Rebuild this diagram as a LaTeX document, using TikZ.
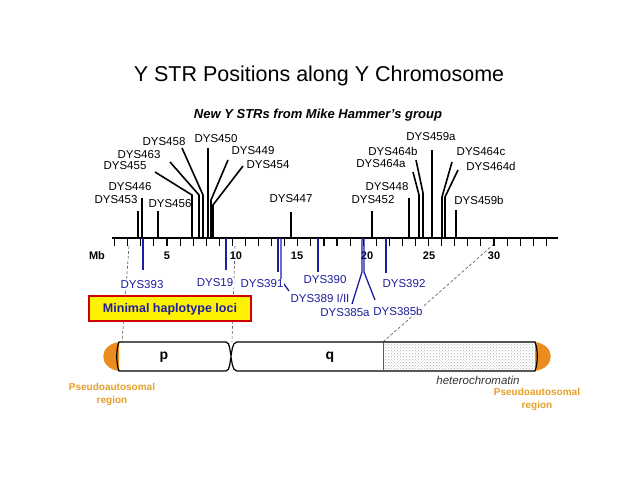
\documentclass[tikz,border=0pt]{standalone}
\usepackage{fontspec}
\setmainfont{Liberation Sans}
\usetikzlibrary{patterns}
\definecolor{blu}{RGB}{30,30,160}
\definecolor{orng}{RGB}{235,140,30}
\definecolor{lbl}{RGB}{230,160,40}
\begin{document}
\begin{tikzpicture}[x=1pt,y=-1pt,
 lab/.style={font=\fontsize{11.5}{13}\selectfont, inner sep=0.5pt},
 blab/.style={lab, text=blu, fill=white},
 mk/.style={line width=1.6pt},
 bmk/.style={line width=1.3pt, draw=blu},
 dsh/.style={densely dashed, gray!70!black, line width=0.6pt}]
\fill[white] (0,0) rectangle (638,478);
\node (title) at (319,76) {\fontsize{21.5}{24}\selectfont Y STR Positions along Y Chromosome};
\node (sub) at (318,115) {\fontsize{13}{15}\selectfont\bfseries\itshape New Y STRs from Mike Hammer’s group};
% dashed guide lines
\coordinate (d1a) at (129,246); \coordinate (d1b) at (122,342);
\coordinate (d2a) at (235,246); \coordinate (d2b) at (232,342);
\coordinate (d3a) at (494,244); \coordinate (d3b) at (383,342);
\draw[dsh] (d1a) -- (d1b); \draw[dsh] (d2a) -- (d2b); \draw[dsh] (d3a) -- (d3b);
% axis
\coordinate (ax0) at (112,238); \coordinate (ax1) at (558,238);
\draw[line width=1.3pt] (ax0) -- (ax1);
\foreach \i in {1,...,34} \draw[line width=1.1pt] ({101.6+13.08*\i},238) -- ++(0,8);
\node[font=\bfseries\fontsize{11}{13}\selectfont] (mb) at (97,256) {Mb};
\foreach \v/\x in {5/167,10/236,15/297,20/367,25/429,30/494}
  \node[font=\bfseries\fontsize{11}{13}\selectfont, fill=white, inner sep=0.5pt] (n\v) at (\x,256) {\v};
% black markers
\draw[mk] (138,238) -- (138,211);
\draw[mk] (142,238) -- (142,198);
\draw[mk] (158,238) -- (158,211);
\draw[mk] (192,238) -- (192,195) -- (155,172);
\draw[mk] (199,238) -- (199,195) -- (170,162);
\draw[mk] (203,238) -- (203,195) -- (182,148);
\draw[mk] (208,238) -- (208,148);
\draw[mk] (211,238) -- (211,200) -- (228,160);
\draw[mk] (213,238) -- (213,205) -- (243,166);
\draw[mk] (291,238) -- (291,212);
\draw[mk] (372,238) -- (372,211);
\draw[mk] (409,238) -- (409,198);
\draw[mk] (419,238) -- (419,195) -- (413,172);
\draw[mk] (423,238) -- (423,193) -- (416,160);
\draw[mk] (432,238) -- (432,150);
\draw[mk] (442,238) -- (442,197) -- (452,162);
\draw[mk] (445,238) -- (445,197) -- (458,170);
\draw[mk] (456,238) -- (456,210);
\node[lab] (s453) at (116,200) {DYS453};
\node[lab] (s446) at (130,187) {DYS446};
\node[lab] (s456) at (170,204) {DYS456};
\node[lab] (s455) at (125,166) {DYS455};
\node[lab] (s463) at (139,155) {DYS463};
\node[lab] (s458) at (164,142) {DYS458};
\node[lab] (s450) at (216,139) {DYS450};
\node[lab] (s449) at (253,151) {DYS449};
\node[lab] (s454) at (268,165) {DYS454};
\node[lab] (s447) at (291,199) {DYS447};
\node[lab] (s452) at (373,200) {DYS452};
\node[lab] (s448) at (387,187) {DYS448};
\node[lab] (s464a) at (381,164) {DYS464a};
\node[lab] (s464b) at (393,151) {DYS464b};
\node[lab] (s459a) at (431,137) {DYS459a};
\node[lab] (s464c) at (481,152) {DYS464c};
\node[lab] (s464d) at (491,166) {DYS464d};
\node[lab] (s459b) at (479,200) {DYS459b};
% blue markers
\draw[bmk] (143,238) -- (143,270);
\draw[bmk] (226,238) -- (226,270);
\draw[bmk] (278,238) -- (278,272);
\draw[bmk] (281,238) -- (281,280) -- (289,291);
\draw[bmk] (318,238) -- (318,272);
\draw[bmk] (362,238) -- (362,272) -- (352,304);
\draw[bmk] (364,238) -- (364,272) -- (375,300);
\draw[bmk] (386,238) -- (386,273);
\node[blab] (b393) at (142,285) {DYS393};
\node[blab] (b19) at (215,283) {DYS19};
\node[blab] (b391) at (262,284) {DYS391};
\node[blab] (b389) at (320,298) {DYS389 I/II};
\node[blab] (b390) at (325,280) {DYS390};
\node[blab] (b385a) at (345,313) {DYS385a};
\node[blab] (b385b) at (398,311) {DYS385b};
\node[blab] (b392) at (404,284) {DYS392};
% minimal box
\node[draw=red!80!black, line width=2pt, fill=yellow, text=blu, font=\bfseries\fontsize{12.5}{14}\selectfont,
  minimum width=162pt, minimum height=25pt] (minbox) at (170,309) {Minimal haplotype loci};
% chromosome
\fill[orng] (119,342) .. controls (98,345) and (98,368) .. (119,371) -- cycle;
\fill[orng] (535,342) .. controls (556,345) and (556,368) .. (535,371) -- cycle;
\fill[pattern=crosshatch dots, pattern color=gray!60] (383,342) rectangle (535,371);
\draw[line width=1.2pt] (119,342) -- (226,342) .. controls (230,342) and (230,352) .. (231,356)
  .. controls (232,352) and (232,342) .. (237,342) -- (535,342)
  .. controls (538,350) and (538,363) .. (535,371) -- (237,371)
  .. controls (232,371) and (232,361) .. (231,357) .. controls (230,361) and (230,371) .. (226,371)
  -- (119,371) .. controls (116,363) and (116,350) .. (119,342) -- cycle;
\draw[gray!70!black, line width=0.6pt] (383,342) -- (383,371);
\node[font=\bfseries\fontsize{14}{16}\selectfont] (p) at (164,357) {p};
\node[font=\bfseries\fontsize{14}{16}\selectfont] (q) at (330,357) {q};
\node[font=\itshape\fontsize{11.5}{13}\selectfont, text=black!80] (het) at (478,380) {heterochromatin};
\node[font=\bfseries\fontsize{10}{13}\selectfont, text=lbl, align=center] (pal) at (112,394) {Pseudoautosomal\\region};
\node[font=\bfseries\fontsize{10}{13}\selectfont, text=lbl, align=center] (par) at (537,399) {Pseudoautosomal\\region};
\end{tikzpicture}
\end{document}
